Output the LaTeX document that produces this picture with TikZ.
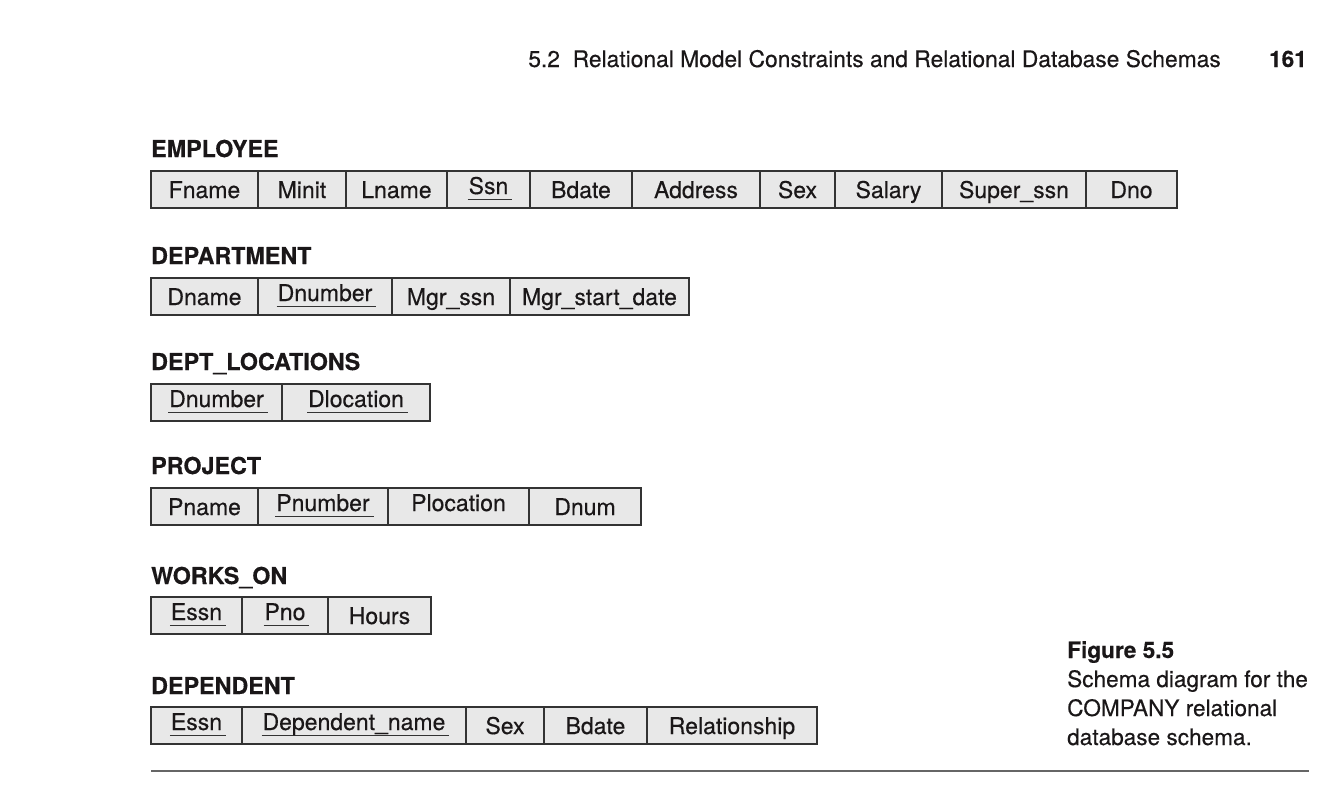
\documentclass[tikz,border=0pt]{standalone}
\usepackage{fontspec}
\setmainfont{TeX Gyre Heros}[FakeBold=0.35]
\definecolor{ink}{HTML}{1A1718}
\definecolor{cellfill}{HTML}{E8E8E8}
\definecolor{cellline}{HTML}{333333}
\newsavebox\keybox
\newcommand\keyattr[1]{\sbox\keybox{#1}\rlap{\kern-1pt\color{cellline}\rule[-6pt]{\dimexpr\wd\keybox+5pt\relax}{1.3pt}}\usebox\keybox}
\tikzset{
  cell/.style={draw=cellline, fill=cellfill, line width=1.4pt, inner sep=0pt, outer sep=0pt,
    anchor=north west, text=ink, font=\fontsize{23}{26}\selectfont},
  plain/.style={cell, text height=27pt, text depth=10pt},
  keyed/.style={cell, text height=23pt, text depth=14pt},
  reltitle/.style={anchor=base west, inner sep=0pt, text=ink, font=\fontsize{23.3}{26}\selectfont\bfseries},
}
\newcommand\pcell[5]{\node[plain, minimum width=#3pt-#2pt] (#1) at (#2,#4) {#5};}
\newcommand\kcell[5]{\node[keyed, minimum width=#3pt-#2pt] (#1) at (#2,#4) {\keyattr{#5}};}
\begin{document}
\begin{tikzpicture}[x=1pt,y=-1pt]
\fill[white] (0,0) rectangle (1320,798);
\useasboundingbox (0,0) rectangle (1320,798);
% running head
\node[anchor=base east, inner sep=0pt, text=ink, font=\fontsize{22.8}{26}\selectfont] (head) at (1221,67) {5.2\ \ Relational Model Constraints and Relational Database Schemas};
\node[anchor=base east, inner sep=0pt, text=ink, font=\fontsize{22.6}{26}\selectfont\bfseries] (page) at (1307,67) {161};
% EMPLOYEE
\node[reltitle] (temp) at (151,157) {EMPLOYEE};
\pcell{e1}{151}{258}{171}{Fname}
\pcell{e2}{258}{346}{171}{Minit}
\pcell{e3}{346}{447}{171}{Lname}
\kcell{e4}{447}{530}{171}{Ssn}
\pcell{e5}{530}{632}{171}{Bdate}
\pcell{e6}{632}{760}{171}{Address}
\pcell{e7}{760}{835}{171}{Sex}
\pcell{e8}{835}{942}{171}{Salary}
\pcell{e9}{942}{1086}{171}{Super\_ssn}
\pcell{e10}{1086}{1177}{171}{Dno}
% DEPARTMENT
\node[reltitle] (tdep) at (151,264) {DEPARTMENT};
\pcell{d1}{151}{258}{278}{Dname}
\kcell{d2}{258}{392}{278}{Dnumber}
\pcell{d3}{392}{510}{278}{Mgr\_ssn}
\pcell{d4}{510}{689}{278}{Mgr\_start\_date}
% DEPT_LOCATIONS
\node[reltitle] (tloc) at (151,370) {DEPT\_LOCATIONS};
\kcell{l1}{151}{282}{384}{Dnumber}
\kcell{l2}{282}{430}{384}{Dlocation}
% PROJECT
\node[reltitle] (tproj) at (151,474) {PROJECT};
\pcell{p1}{151}{258}{488}{Pname}
\kcell{p2}{258}{388}{488}{Pnumber}
\node[keyed, minimum width=141pt] (p3) at (388,488) {Plocation};
\pcell{p4}{529}{641}{488}{Dnum}
% WORKS_ON
\node[reltitle] (twork) at (151,584) {WORKS\_ON};
\kcell{w1}{151}{242}{597}{Essn}
\kcell{w2}{242}{328}{597}{Pno}
\pcell{w3}{328}{431}{597}{Hours}
% DEPENDENT
\node[reltitle] (tdpd) at (151,694) {DEPENDENT};
\kcell{n1}{151}{242}{707}{Essn}
\kcell{n2}{242}{466}{707}{Dependent\_name}
\pcell{n3}{466}{544}{707}{Sex}
\pcell{n4}{544}{647}{707}{Bdate}
\pcell{n5}{647}{817}{707}{Relationship}
% caption
\node[anchor=base west, inner sep=0pt, align=left, text=ink, font=\fontsize{22.6}{29}\selectfont] (cap) at (1067,745)
  {\textbf{Figure 5.5}\\Schema diagram for the\\COMPANY relational\\database schema.};
% bottom rule
\draw[line width=2pt, color=black!60] (151,771) -- (1309,771);
\end{tikzpicture}
\end{document}
